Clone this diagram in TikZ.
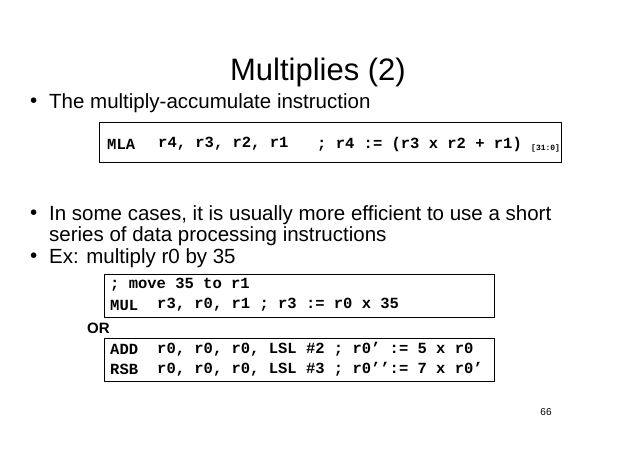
\documentclass[tikz,border=0pt]{standalone}
\usepackage{fontspec}
\setmainfont{Liberation Sans}
\newfontfamily\codefont{Liberation Mono}
\begin{document}
\begin{tikzpicture}[x=1pt,y=-1pt,
  txt/.style={anchor=west,inner sep=0pt,font=\fontsize{20.5}{24}\selectfont},
  code/.style={anchor=west,inner sep=0pt,font=\codefont\bfseries\fontsize{15.5}{18}\selectfont},
  box/.style={draw,line width=0.8pt}]
\path[use as bounding box,fill=white] (0,0) rectangle (638,451);
\node[inner sep=0pt,font=\fontsize{31}{36}\selectfont] (title) at (318,72) {Multiplies (2)};
\node[txt] (d1b) at (30,103) {\textbullet};
\node[txt] (b1) at (49,103) {The multiply-accumulate instruction};
\draw[box] (99,122) rectangle (561,162);
\node[code] (m1) at (107,144) {MLA};
\node[code] (m2) at (158,144) {r4, r3, r2, r1};
\node[code] (m3) at (317,144) {; r4 := (r3 x r2 + r1)};
\node[anchor=west,inner sep=0pt,font=\codefont\bfseries\fontsize{8}{9}\selectfont] (m4) at (531,148) {[31:0]};
\node[txt] (d2b) at (30,215) {\textbullet};
\node[txt] (b2) at (49,215) {In some cases, it is usually more efficient to use a short};
\node[txt] (b2b) at (49,236) {series of data processing instructions};
\node[txt] (d3b) at (30,258) {\textbullet};
\node[txt] (b3) at (49,258) {Ex: multiply r0 by 35};
\draw[box] (104,274) rectangle (494,317);
\node[code] (c1) at (110,285) {; move 35 to r1};
\node[code] (c2) at (110,305) {MUL};
\node[code] (c3) at (157,305) {r3, r0, r1 ; r3 := r0 x 35};
\node[anchor=west,inner sep=0pt,font=\bfseries\fontsize{15}{18}\selectfont] (or) at (87,328) {OR};
\draw[box] (104,338) rectangle (494,381);
\node[code] (d1) at (110,349) {ADD};
\node[code] (d2) at (157,349) {r0, r0, r0, LSL \#2 ; r0’ := 5 x r0};
\node[code] (e1) at (110,369) {RSB};
\node[code] (e2) at (157,369) {r0, r0, r0, LSL \#3 ; r0’’:= 7 x r0’};
\node[inner sep=0pt,font=\fontsize{10}{12}\selectfont] (pg) at (546,412) {66};
\end{tikzpicture}
\end{document}
